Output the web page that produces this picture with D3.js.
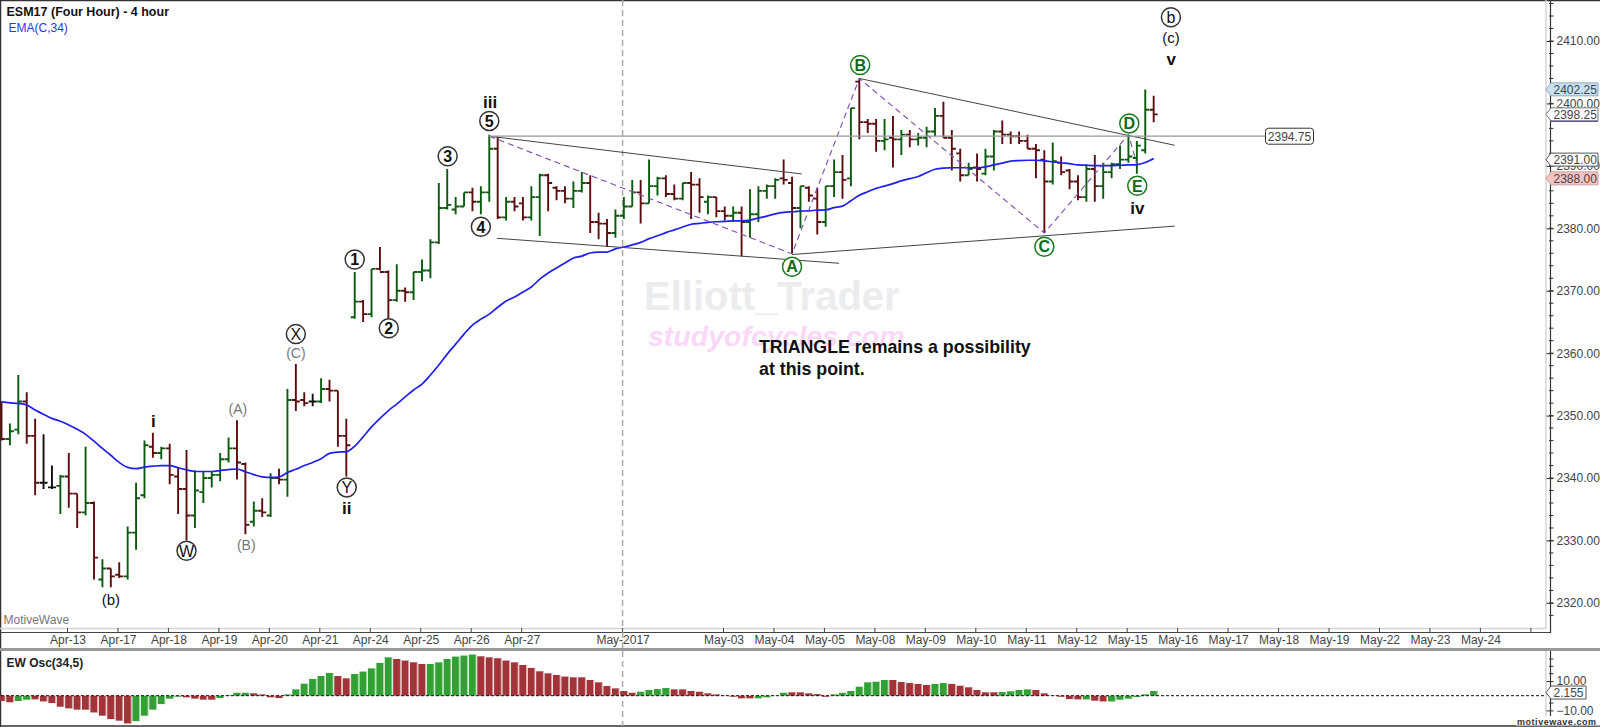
<!DOCTYPE html>
<html>
<head>
<meta charset="utf-8">
<script src="https://d3js.org/d3.v7.min.js"></script>
<style>
  html, body { margin: 0; padding: 0; background: #fff; }
  svg { display: block; font-family: "Liberation Sans", Arial, sans-serif; }
</style>
</head>
<body>
<svg id="chart" width="1600" height="727"></svg>
<script>
// one row per session bar, left to right
var opens = [2352,2346.25,2347.75,2352.25,2346.75,2339.25,2338.5,2338.75,2340.25,2337.5,2334.5,2336,2323.75,2325.5,2324.5,2324.25,2331.25,2337.25,2345,2344,2344.75,2340.25,2338.25,2334,2337.75,2340,2340.5,2343,2344.75,2342.25,2333,2334.75,2334,2340,2339.75,2352.5,2352.5,2352.25,2352.25,2354.25,2354,2346.75,
  2365.75,2368.25,2366.25,2373.5,2373,2368.5,2370,2369.75,2373,2373.25,2377.75,2383.25,2383,2383.5,2385.75,2384.25,2385.75,2392.75,2381.75,2384.25,2384,2381.75,2385,2388.5,2386.5,2386,2384.75,2386,2387.25,2381,2380.75,2379.25,
  2382,2383.5,2385.75,2384,2386.75,2388,2385.5,2384.75,2387.25,2387,2384.25,2385,2382.75,2382,2382.5,2381,2382.25,2386,2386.75,2388,2387.25,2383.25,2386.5,2384.75,2381,2386.75,2389,2388,2403.5,2397,2396.75,2394,2394.5,
  2394.25,2395,2394.25,2394.5,2395.5,2398,2394.5,2392,2388.5,2389.75,2388.75,2391.5,2395.5,2395,2394.75,2394,2392.75,2391,2387.5,2390.5,2389.25,2387.5,2385,2389.5,2386.75,2389,2390.25,2391,2391.25,2392.5,2399];
var highs = [2352.25,2348.75,2356.5,2353.75,2349.5,2347,2342,2340.5,2344,2337.5,2345,2336.25,2327,2325.5,2326.5,2332.25,2339.25,2346,2347.25,2345,2345.5,2341.75,2344.5,2341.25,2341,2341,2344,2346.5,2349.25,2342.5,2336.25,2336.75,2340.75,2341.5,2354.25,2358.25,2353.75,2353.5,2356,2355.75,2354,2349.5,
  2373,2368.5,2373.5,2377,2373.25,2374.25,2370.5,2373,2375,2378.25,2387.25,2389.5,2385,2385.75,2386.5,2386.75,2395,2394.75,2385,2385,2385,2386.75,2388.75,2388.75,2386.75,2386.75,2387.5,2389,2388.5,2382.5,2381.5,2383,
  2385,2387.75,2387.75,2391,2388.25,2388.5,2387,2387.25,2389,2388,2385.25,2385,2383.5,2383.5,2383.5,2386.25,2386.75,2387,2388,2391,2388.25,2386.75,2386.75,2386.5,2386.75,2391,2391.75,2399.25,2404,2397.5,2397.5,2397.5,2398,
  2395.75,2395.75,2395.25,2396.25,2399.25,2400.25,2395.75,2392.75,2390.5,2392,2392.75,2395.75,2397.25,2395.5,2395.5,2395,2393.5,2392.5,2393.75,2391.5,2389.5,2388.5,2390.25,2391.75,2390.5,2390.5,2393.25,2395,2394,2402.25,2401.25];
var lows = [2346,2345.25,2347,2345.5,2337.25,2338.25,2338.25,2334.25,2335.25,2332,2334,2323.75,2322.5,2322.5,2324,2323.75,2328.5,2336.75,2343.25,2343,2339,2334.25,2330,2332,2336,2338.5,2339.5,2342.5,2339.75,2331,2332.25,2333.75,2333.75,2339,2337,2350.75,2351.5,2351.5,2352,2352.25,2345,2340.25,
  2365.5,2365,2365.75,2373.25,2365.5,2368.25,2368.25,2368.5,2371.5,2372,2377.5,2383,2382.25,2383.5,2382.75,2382.25,2384.25,2381.5,2381.25,2382.75,2381.25,2381.25,2378.75,2382.75,2384.5,2384,2383.25,2385.75,2379.25,2378.25,2377,2378.5,
  2381.5,2383.5,2380.75,2384,2385.25,2385,2384.5,2384.5,2381.5,2382.5,2382.25,2381.75,2381.25,2381,2375.5,2378.5,2381,2384.75,2384.75,2387,2376,2380,2384.25,2379,2380.25,2385,2384.75,2386.75,2394.25,2395.25,2392.25,2392.5,2389.75,
  2391.75,2393,2393.25,2393,2394.75,2394.5,2389.25,2387.5,2388.5,2387.5,2388.5,2389.25,2393.5,2393.5,2393.5,2392.75,2388,2379.25,2387,2388.5,2386.25,2384.5,2384.25,2384.25,2384.75,2388,2389.5,2390.5,2388.75,2392,2397];
var closes = [2346.25,2347.5,2352.25,2346.75,2339.25,2339.25,2338.5,2340.25,2337.5,2334.5,2336,2327.25,2325.5,2324.25,2324.25,2331.25,2336.75,2345.25,2344,2344.75,2340.5,2338.25,2334,2338,2340,2340.5,2343,2344.75,2342.5,2332.5,2334.75,2334.5,2340,2339.75,2352.5,2352.25,2352,2352.25,2354.25,2354,2346.75,2345.25,
  2368.25,2366.25,2373.5,2373,2368.5,2370,2369.75,2373,2373.25,2377.75,2383.25,2383.75,2383.5,2385.75,2384.25,2385.75,2392.75,2381.75,2384.25,2383.5,2381.75,2385,2388.5,2387.25,2386,2384.75,2386,2387.25,2381,2380.75,2379.25,2382,
  2383.5,2385.75,2384,2386.75,2388,2385.5,2384.75,2387.25,2387,2385,2385,2382.75,2382,2382.5,2381,2382.25,2386,2386.75,2387.75,2387.75,2383.25,2386.75,2385.25,2381,2386.75,2389,2387.75,2399.25,2397,2396.75,2394,2394.25,2394.25,
  2395,2394.25,2394.5,2395.5,2398,2394.5,2392.75,2388.5,2389.5,2389.5,2391.5,2395.5,2395,2394.75,2394,2392.75,2392.5,2387.5,2390.75,2389,2387.5,2385,2389.5,2386.75,2389,2390.25,2391,2391.5,2393.25,2399,2398.25];

var emaValues = [2352.2,2352.05,2351.95,2351.7,2350.9,2350.2,2349.55,2349.1,2348.5,2347.8,2347,2345.9,2344.75,2343.65,2342.5,2341.7,2341.5,2341.75,2341.9,2342,2342,2341.65,2341.3,2341.05,2341.05,2341.05,2341.2,2341.35,2341.45,2341,2340.55,2340.2,2340.1,2340.15,2340.9,2341.4,2342,2342.5,2343.1,2343.95,2344.15,2344.2,
  2345.1,2346.6,2348.2,2349.55,2350.8,2351.85,2353,2354.1,2355.05,2356.5,2358.1,2359.85,2361.45,2363.05,2364.5,2365.45,2366.25,2367.35,2368.35,2369,2369.8,2370.6,2371.85,2372.85,2373.65,2374.45,2375.25,2375.55,2376.05,2376.2,2376.2,2376.7,
  2377,2377.35,2377.75,2378.35,2378.8,2379.3,2379.75,2380.2,2380.65,2380.8,2380.95,2381.05,2381.1,2381.2,2381.2,2381.3,2381.65,2381.95,2382.3,2382.55,2382.65,2382.75,2382.8,2382.9,2382.95,2383.3,2383.55,2384.4,2385.3,2385.85,2386.4,2386.75,2387.15,
  2387.6,2387.95,2388.3,2388.9,2389.45,2389.65,2389.7,2389.7,2389.7,2389.7,2389.85,2390.15,2390.45,2390.75,2390.85,2390.9,2390.9,2390.8,2390.65,2390.5,2390.35,2390.15,2390.1,2390.05,2390.05,2390.05,2390.1,2390.15,2390.2,2390.55,2391.2];

var oscValues = [-3.6,-4.5,-3.6,-2.7,-2.5,-3.9,-5,-7.5,-8.6,-9.5,-9.5,-11.4,-13.6,-15.9,-17,-18.9,-17.3,-13.6,-9.5,-5.7,-2,-0.7,-1.1,-2,-2.7,-2.7,-1.6,0.4,2,2,1.6,0.9,-1.1,-1.6,0.9,4.3,8.2,11.4,13.4,15.5,13.4,11.8,
  14.8,16.4,18.6,22.3,26.1,25,23.9,22.7,21.6,21.6,22.7,25,26.6,27.3,28,26.8,26.1,25.5,23.9,22.7,20.9,18.9,16.6,15.2,14.1,13,12.5,12.5,10.7,9.1,6.6,5,
  3.2,2,2.7,3.9,4.5,5.2,4.3,4.3,3.2,2.7,1.6,0.9,0.2,-0.7,-1.8,-1.8,-1.8,-1.1,0.2,2,2.3,2.3,1.6,1.1,-0.7,0.9,2,3.2,6.1,9.1,9.5,10.7,10.7,
  9.3,8.6,8,7.3,8,8.6,8,6.8,5.7,3.9,2.3,2.3,2.5,3,3.9,4.3,3.9,1.6,0.2,-0.7,-2.3,-2.5,-2.5,-3.4,-3.9,-3.9,-2.7,-2,-0.9,0.9,3.2];
var oscRising = [0,0,1,1,0,0,0,0,0,0,0,0,0,0,0,0,1,1,1,1,1,1,0,0,0,0,1,1,1,1,0,0,0,0,1,1,1,1,1,1,0,0,
  1,1,1,1,1,0,0,0,0,1,1,1,1,1,1,0,0,0,0,0,0,0,0,0,0,0,0,0,0,0,0,0,
  0,0,1,1,1,1,0,0,0,0,0,0,0,0,0,0,1,1,1,1,0,0,0,0,0,1,1,1,1,1,1,1,0,
  0,0,0,0,1,1,0,0,0,0,0,0,1,1,1,1,0,0,0,0,0,0,1,0,0,1,1,1,1,1,1];

var dateLabels = ['Apr-13','Apr-17','Apr-18','Apr-19','Apr-20','Apr-21','Apr-24','Apr-25','Apr-26','Apr-27','May-2017','May-03','May-04','May-05','May-08','May-09','May-10','May-11','May-12','May-15','May-16','May-17','May-18','May-19','May-22','May-23','May-24',''];
var dateBars = [7.85,13.85,19.85,25.85,31.85,37.85,43.85,49.85,55.85,61.85,73.85,85.85,91.85,97.85,103.85,109.85,115.85,121.85,127.85,133.85,139.85,145.85,151.85,157.85,163.85,169.85,175.85,181.85];
var monthBar = 73.85;

var priceTicks = [2320,2330,2340,2350,2360,2370,2380,2390,2400,2410];
var oscTicks = [-10,10];

// triangle and wave lines: [bar, price]
var trendLines = [
  [[58,2394.75],[95.15,2388.7]],
  [[58.9,2378.4],[99.6,2374.4]],
  [[102,2404],[139.5,2393.3]],
  [[94,2375.8],[139.5,2380.35]]
];
var wavePath = [[58,2394.75],[94,2375.9],[102,2404],[124,2379.25],[134,2395],[135,2390.3]];
var levelLine = [[58,2394.75],[150.3,2394.75]];

var circledNames = ['W','Y','X','1','2','3','4','5','b'];
var circledBars = [22,41.05,35,42,46.05,53.05,57,58,139.05];
var circledPrices = [2328.35,2338.5,2363.05,2375,2364,2391.55,2380.25,2397.2,2413.8];

var triangleNames = ['A','B','C','D','E'];
var triangleBars = [94,102.1,124,134.1,135.05];
var trianglePrices = [2373.85,2406.15,2377.05,2396.8,2386.8];

var boldNames = ['i','ii','iii','iv','v'];
var boldBars = [18.05,41.05,58.1,135.05,139.1];
var boldPrices = [2349.1,2335.15,2400.25,2383.2,2407.2];

var plainNames = ['(b)','(c)'];
var plainBars = [13,139.05];
var plainPrices = [2320.55,2410.5];

var greyNames = ['(A)','(B)','(C)'];
var greyBars = [28.1,29.1,35];
var greyPrices = [2351,2329.25,2360.05];

var priceTags = [
  { text: '2402.25', price: 2402.25, fill: '#c6e2f2', line: '#8fa9b8' },
  { text: '2398.25', price: 2398.25, fill: '#fff', line: '#777' },
  { text: '2391.00', price: 2391, fill: '#fff', line: '#555' },
  { text: '2388.00', price: 2388, fill: '#f6c3c3', line: '#c9a0a0' }
];

var svg = d3.select('#chart');
var bars = d3.range(opens.length);

var x = d3.scaleLinear().domain([0, 100]).range([1.5, 842.5]);
var y = d3.scaleLinear().domain([2410, 2320]).range([41, 602.9]);
var yOsc = d3.scaleLinear().domain([10, -10]).range([681, 710.4]);

var GREEN = '#0b5a0d', RED = '#5c0d0f';
var lineOf = d3.line().x(function(d) { return x(d[0]); }).y(function(d) { return y(d[1]); });

function barColour(i) {
  if (closes[i] > opens[i]) return GREEN;
  if (closes[i] < opens[i]) return RED;
  return '#111';
}

// watermark goes under everything
svg.append('text').attr('x', 644).attr('y', 310)
  .attr('font-size', 40).attr('font-weight', 'bold').attr('fill', '#ececee')
  .text('Elliott_Trader');
svg.append('text').attr('x', 648).attr('y', 346)
  .attr('font-size', 28.5).attr('font-style', 'italic').attr('font-weight', 'bold').attr('fill', '#fbd7f8')
  .text('studyofcycles.com');

// frame
function rule(x1, y1, x2, y2, colour, width) {
  return svg.append('line').attr('x1', x1).attr('y1', y1).attr('x2', x2).attr('y2', y2)
    .attr('stroke', colour).attr('stroke-width', width);
}
rule(0, 0.5, 1600, 0.5, '#333', 1.5);
rule(0.5, 0, 0.5, 727, '#333', 1.5);
rule(0, 628.5, 1546, 628.5, '#d4d4d0', 1.5);
rule(1546, 0, 1546, 629, '#d4d4d0', 1.5);
rule(0, 632.5, 1551, 632.5, '#444', 1.2);
rule(1550.5, 0, 1550.5, 633, '#333', 1.2);
rule(0, 649.5, 1600, 649.5, '#999', 3);
rule(1546, 651, 1546, 726, '#d4d4d0', 1.5);
rule(1550.5, 651, 1550.5, 726, '#333', 1.2);
rule(0, 726, 1600, 726, '#333', 1.5);

// month divider runs through both panes
svg.selectAll('.monthLine').data([[0, 628], [632, 651], [651, 726]]).enter().append('line')
  .attr('class', 'monthLine')
  .attr('x1', x(monthBar)).attr('x2', x(monthBar))
  .attr('y1', function(d) { return d[0]; }).attr('y2', function(d) { return d[1]; })
  .attr('stroke', '#aaa').attr('stroke-width', 1.5).attr('stroke-dasharray', '6,4');

// price axis
var priceAxis = d3.axisRight(y)
  .tickValues(priceTicks).tickSize(3).tickPadding(3)
  .tickFormat(d3.format('.2f'));
var priceGroup = svg.append('g').attr('transform', 'translate(1550.5,0)').call(priceAxis);
priceGroup.select('.domain').remove();
priceGroup.selectAll('text').attr('font-size', 12).attr('font-family', 'inherit').attr('fill', '#444');
priceGroup.selectAll('line').attr('x1', -4).attr('stroke', '#333');

var minorPrices = d3.range(2318, 2418, 2);
svg.selectAll('.minor').data(minorPrices).enter().append('line')
  .attr('class', 'minor')
  .attr('x1', 1549).attr('x2', 1553.5)
  .attr('y1', function(d) { return y(d); }).attr('y2', function(d) { return y(d); })
  .attr('stroke', '#333');

// date axis
var dateAxis = d3.axisBottom(x)
  .tickValues(dateBars).tickSize(0).tickPadding(0)
  .tickFormat(function(d, i) { return dateLabels[i]; });
var dateGroup = svg.append('g').attr('transform', 'translate(0,630)').call(dateAxis);
dateGroup.select('.domain').remove();
dateGroup.selectAll('line').remove();
dateGroup.selectAll('text').attr('font-size', 12).attr('font-family', 'inherit').attr('fill', '#444').attr('dy', 14);
svg.selectAll('.dateTick').data(dateBars).enter().append('line')
  .attr('class', 'dateTick')
  .attr('x1', function(d) { return x(d); }).attr('x2', function(d) { return x(d); })
  .attr('y1', 628).attr('y2', 632)
  .attr('stroke', '#444');

// OHLC bars
var barGroup = svg.append('g').attr('fill', 'none').attr('stroke-width', 1.9);
barGroup.selectAll('path').data(bars).enter().append('path')
  .attr('stroke', barColour)
  .attr('d', function(i) {
    var px = x(i);
    return 'M' + px + ',' + y(highs[i]) + 'V' + y(lows[i]) +
      'M' + (px - 4) + ',' + y(opens[i]) + 'H' + px +
      'M' + px + ',' + y(closes[i]) + 'H' + (px + 4);
  });

// EMA
svg.append('path').datum(emaValues)
  .attr('fill', 'none').attr('stroke', '#1f1fee').attr('stroke-width', 1.7)
  .attr('d', d3.line().x(function(d, i) { return x(i); }).y(function(d) { return y(d); }).curve(d3.curveMonotoneX));

// triangle
svg.selectAll('.trend').data(trendLines).enter().append('path')
  .attr('class', 'trend').attr('fill', 'none')
  .attr('stroke', '#444').attr('stroke-width', 1)
  .attr('d', lineOf);
svg.append('path').datum(wavePath)
  .attr('fill', 'none').attr('stroke', '#7a4bb0').attr('stroke-width', 1.1).attr('stroke-dasharray', '6,4')
  .attr('d', lineOf);
svg.append('path').datum(levelLine)
  .attr('fill', 'none').attr('stroke', '#999').attr('stroke-width', 1.3)
  .attr('d', lineOf);

// 2394.75 level tag
svg.append('rect')
  .attr('x', x(levelLine[1][0])).attr('y', y(levelLine[1][1]) - 8)
  .attr('width', 48).attr('height', 16).attr('rx', 3)
  .attr('fill', '#fff').attr('stroke', '#333');
svg.append('text')
  .attr('x', x(levelLine[1][0]) + 24).attr('y', y(levelLine[1][1]) + 4.5)
  .attr('text-anchor', 'middle').attr('font-size', 12).attr('fill', '#444')
  .text('2394.75');

// wave labels
function circled(names, bars, prices, colour, textColour, radius, fontSize) {
  names.forEach(function(name, i) {
    var g = svg.append('g').attr('transform', 'translate(' + x(bars[i]) + ',' + y(prices[i]) + ')');
    g.append('circle').attr('r', radius).attr('fill', '#fff').attr('stroke', colour).attr('stroke-width', 1.5);
    g.append('text').attr('text-anchor', 'middle').attr('dy', fontSize * 0.36)
      .attr('font-size', fontSize).attr('font-weight', /[0-9A-E]/.test(name) ? 'bold' : 'normal').attr('fill', textColour)
      .text(name);
  });
}
circled(circledNames, circledBars, circledPrices, '#333', '#111', 9.5, 16);
circled(triangleNames, triangleBars, trianglePrices, '#1a7a1f', '#0f6d14', 9.5, 16);

function plainLabels(names, bars, prices, colour, weight, fontSize) {
  svg.append('g').selectAll('text').data(names).enter().append('text')
    .attr('x', function(d, i) { return x(bars[i]); })
    .attr('y', function(d, i) { return y(prices[i]); })
    .attr('dy', fontSize * 0.36).attr('text-anchor', 'middle')
    .attr('font-size', fontSize).attr('font-weight', weight).attr('fill', colour)
    .text(function(d) { return d; });
}
plainLabels(boldNames, boldBars, boldPrices, '#111', 'bold', 17);
plainLabels(plainNames, plainBars, plainPrices, '#111', 'normal', 15);
plainLabels(greyNames, greyBars, greyPrices, '#777', 'normal', 14);

// tags on the price axis
var tags = svg.selectAll('.tag').data(priceTags).enter().append('g')
  .attr('class', 'tag')
  .attr('transform', function(d) { return 'translate(1546,' + y(d.price) + ')'; });
tags.append('path')
  .attr('d', 'M0,0L5,-6.5H52V6.5H5Z')
  .attr('fill', function(d) { return d.fill; })
  .attr('stroke', function(d) { return d.line; });
tags.append('text').attr('x', 7.5).attr('y', 4.5).attr('font-size', 12).attr('fill', '#444')
  .text(function(d) { return d.text; });
rule(1550, y(2398.25) + 7, 1598, y(2398.25) + 7, '#5a5a9a', 1.2);

// oscillator
var oscBars = svg.append('g');
oscBars.selectAll('.osc').data(oscValues).enter().append('rect')
  .attr('class', 'osc')
  .attr('x', function(d, i) { return x(i) - 3.6; })
  .attr('width', 7.2)
  .attr('y', function(d) { return Math.min(yOsc(d), yOsc(0)); })
  .attr('height', function(d) { return Math.abs(yOsc(d) - yOsc(0)); })
  .attr('fill', function(d, i) { return oscRising[i] ? '#33a036' : '#a23338'; });
oscBars.selectAll('.oscEdge').data(oscValues).enter().append('rect')
  .attr('class', 'oscEdge')
  .attr('x', function(d, i) { return x(i) + 3.1; })
  .attr('width', 1)
  .attr('y', function(d) { return Math.min(yOsc(d), yOsc(0)); })
  .attr('height', function(d) { return Math.abs(yOsc(d) - yOsc(0)); })
  .attr('fill', function(d, i) { return oscRising[i] ? '#a5d8a6' : '#e0b0b2'; });

rule(1, yOsc(0), 1546, yOsc(0), '#111', 1).attr('stroke-dasharray', '3,2');

var oscAxis = d3.axisRight(yOsc).tickValues(oscTicks).tickSize(3).tickPadding(3)
  .tickFormat(d3.format('.2f'));
var oscGroup = svg.append('g').attr('transform', 'translate(1550.5,0)').call(oscAxis);
oscGroup.select('.domain').remove();
oscGroup.selectAll('text').attr('font-size', 12).attr('font-family', 'inherit').attr('fill', '#444');
oscGroup.selectAll('line').attr('x1', -4).attr('stroke', '#333');
svg.selectAll('.oscMinor').data([-15, -5, 5, 15, 20, 25]).enter().append('line')
  .attr('class', 'oscMinor')
  .attr('x1', 1549).attr('x2', 1553.5)
  .attr('y1', function(d) { return yOsc(d); }).attr('y2', function(d) { return yOsc(d); })
  .attr('stroke', '#333');

var oscTag = svg.append('g').attr('transform', 'translate(1546,' + yOsc(2.155) + ')');
oscTag.append('path').attr('d', 'M0,0L5,-6.5H40V6.5H5Z').attr('fill', '#fff').attr('stroke', '#555');
oscTag.append('text').attr('x', 7.5).attr('y', 4.5).attr('font-size', 12).attr('fill', '#444').text('2.155');

// captions
svg.append('text').attr('x', 6.5).attr('y', 16)
  .attr('font-size', 12.5).attr('font-weight', 'bold').attr('fill', '#111')
  .text('ESM17 (Four Hour) - 4 hour');
svg.append('text').attr('x', 8.5).attr('y', 32)
  .attr('font-size', 12).attr('fill', '#3333ee')
  .text('EMA(C,34)');
svg.append('text').attr('x', 3.5).attr('y', 623.5)
  .attr('font-size', 12).attr('fill', '#777')
  .text('MotiveWave');
svg.append('text').attr('x', 6.5).attr('y', 667)
  .attr('font-size', 12).attr('font-weight', 'bold').attr('fill', '#222')
  .text('EW Osc(34,5)');

svg.append('rect').attr('x', 1516).attr('y', 716).attr('width', 84).attr('height', 9.5).attr('fill', '#fff');
svg.append('text').attr('x', 1517).attr('y', 724.5)
  .attr('font-size', 9).attr('font-weight', 'bold').attr('fill', '#333')
  .attr('textLength', 79).attr('lengthAdjust', 'spacing')
  .text('motivewave.com');

var note = svg.append('text').attr('font-size', 17.8).attr('font-weight', 'bold').attr('fill', '#111');
note.append('tspan').attr('x', 759).attr('y', 353).text('TRIANGLE remains a possibility');
note.append('tspan').attr('x', 759).attr('y', 375).text('at this point.');
</script>
</body>
</html>
